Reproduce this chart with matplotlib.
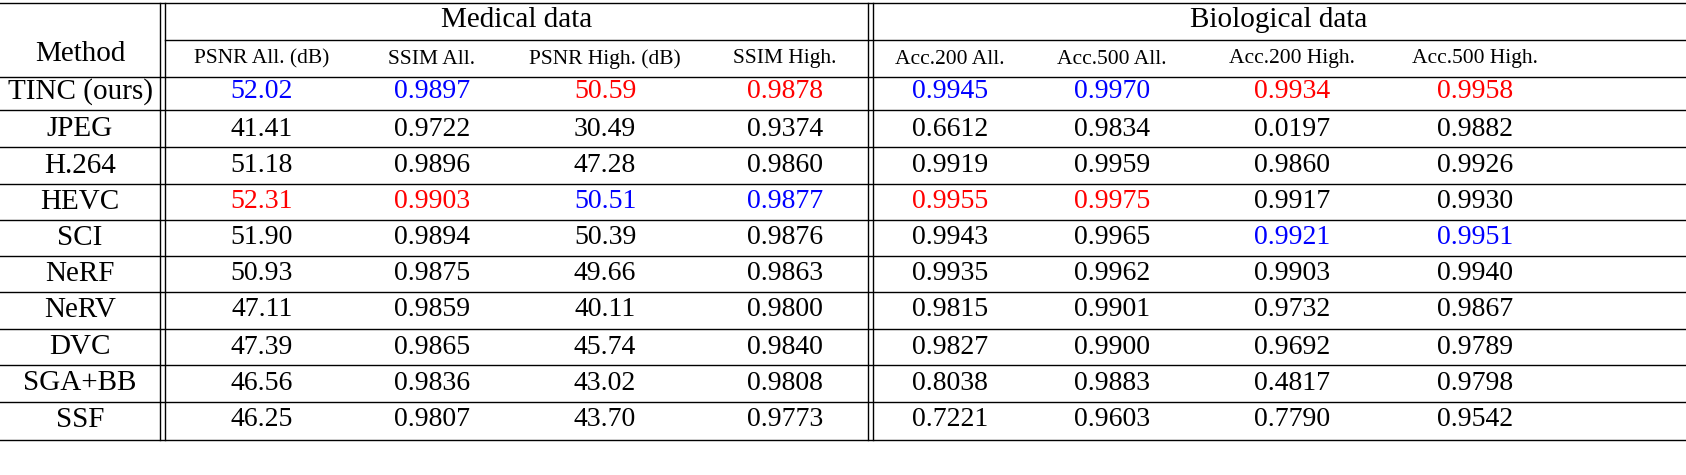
import matplotlib
matplotlib.use("Agg")
import matplotlib.pyplot as plt

methods = ["TINC (ours)", "JPEG", "H.264", "HEVC", "SCI", "NeRF", "NeRV", "DVC", "SGA+BB", "SSF"]
columns = ["PSNR All. (dB)", "SSIM All.", "PSNR High. (dB)", "SSIM High.",
           "Acc.200 All.", "Acc.500 All.", "Acc.200 High.", "Acc.500 High."]
values = [
    ["52.02", "0.9897", "50.59", "0.9878", "0.9945", "0.9970", "0.9934", "0.9958"],
    ["41.41", "0.9722", "30.49", "0.9374", "0.6612", "0.9834", "0.0197", "0.9882"],
    ["51.18", "0.9896", "47.28", "0.9860", "0.9919", "0.9959", "0.9860", "0.9926"],
    ["52.31", "0.9903", "50.51", "0.9877", "0.9955", "0.9975", "0.9917", "0.9930"],
    ["51.90", "0.9894", "50.39", "0.9876", "0.9943", "0.9965", "0.9921", "0.9951"],
    ["50.93", "0.9875", "49.66", "0.9863", "0.9935", "0.9962", "0.9903", "0.9940"],
    ["47.11", "0.9859", "40.11", "0.9800", "0.9815", "0.9901", "0.9732", "0.9867"],
    ["47.39", "0.9865", "45.74", "0.9840", "0.9827", "0.9900", "0.9692", "0.9789"],
    ["46.56", "0.9836", "43.02", "0.9808", "0.8038", "0.9883", "0.4817", "0.9798"],
    ["46.25", "0.9807", "43.70", "0.9773", "0.7221", "0.9603", "0.7790", "0.9542"],
]
colors = [
    ["b", "b", "r", "r", "b", "b", "r", "r"],
    [""] * 8, [""] * 8,
    ["r", "r", "b", "b", "r", "r", "", ""],
    ["", "", "", "", "", "", "b", "b"],
] + [[""] * 8] * 5
cmap = {"b": "#0000ff", "r": "#ff0000", "": "black"}

W, H = 1686, 475
fig = plt.figure(figsize=(W / 100, H / 100), dpi=100)
ax = fig.add_axes([0, 0, 1, 1])
ax.set_xlim(0, W)
ax.set_ylim(H, 0)
ax.axis("off")
plt.rcParams["font.family"] = ["Liberation Serif", "DejaVu Serif"]

col_x = [262, 432, 605, 785, 950, 1112, 1292, 1475]
row_y = [92, 129, 166, 202, 238, 274, 310, 347, 383, 420]
lw = 1.0
for y in [3, 77, 110, 147, 184, 220, 256, 292, 329, 365, 402, 440]:
    ax.plot([0, W], [y, y], color="black", lw=lw)
ax.plot([165, W], [40, 40], color="black", lw=lw)
for x in [160, 165, 868, 873]:
    ax.plot([x, x], [3, 440], color="black", lw=lw)

fs = 20
ax.text(517, 20, "Medical data", ha="center", va="center", fontsize=21)
ax.text(1279, 20, "Biological data", ha="center", va="center", fontsize=21)
ax.text(80, 54, "Method", ha="center", va="center", fontsize=21)
for x, c in zip(col_x, columns):
    ax.text(x, 59, c, ha="center", va="center", fontsize=15.5)
for y, m, vals, cols in zip(row_y, methods, values, colors):
    ax.text(80, y, m, ha="center", va="center", fontsize=21)
    for x, v, c in zip(col_x, vals, cols):
        ax.text(x, y, v, ha="center", va="center", fontsize=fs, color=cmap[c])

fig.savefig("out.png", dpi=100)
